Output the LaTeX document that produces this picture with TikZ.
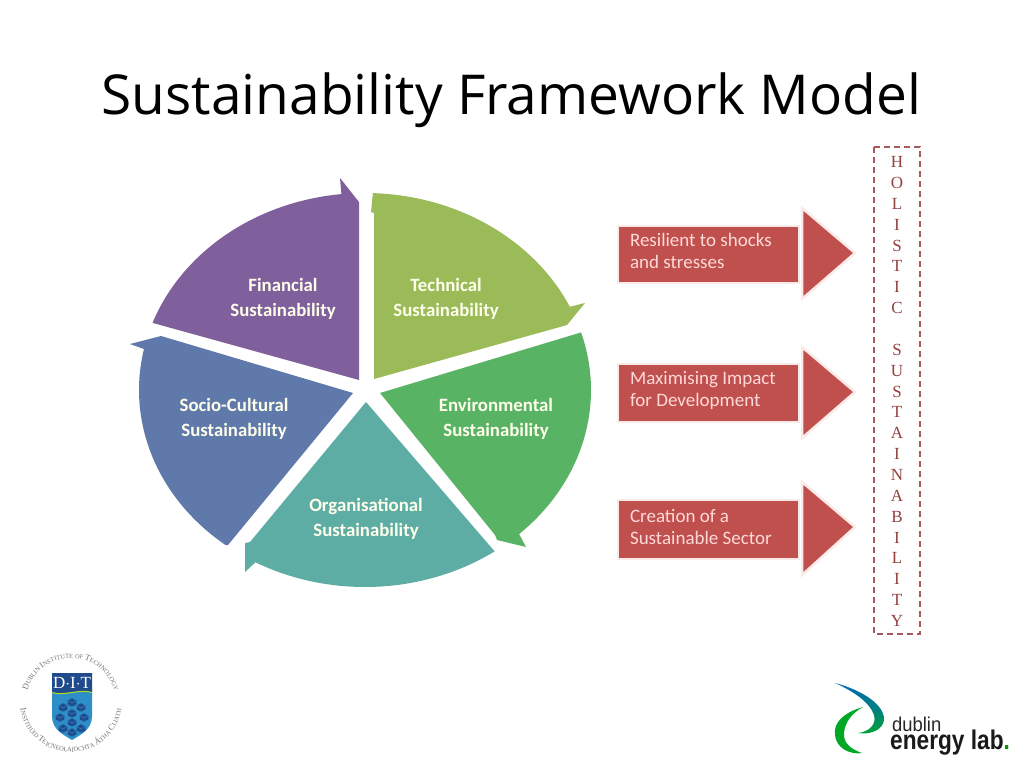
\documentclass[tikz,border=0pt]{standalone}
\usepackage{fontspec}
\setmainfont{Liberation Serif}
\newfontfamily\titlefont{Open Sans}
\newfontfamily\calfont{Carlito}
\newfontfamily\sansfont{Liberation Sans}
\usetikzlibrary{decorations.text}
\definecolor{finC}{HTML}{7F5F9C}
\definecolor{techC}{HTML}{9BBB59}
\definecolor{envC}{HTML}{59B365}
\definecolor{orgC}{HTML}{5EADA5}
\definecolor{socC}{HTML}{5F79AA}
\definecolor{redC}{HTML}{C0504D}
\definecolor{glowC}{HTML}{FAEBE9}
\definecolor{dashC}{HTML}{A85A5A}
\definecolor{holC}{HTML}{93413F}
\definecolor{dkblue}{HTML}{1F4A8C}
\definecolor{ltblue}{HTML}{2E8FC8}
\newcommand{\capA}{\fontsize{8.5}{10}\selectfont\color{black!55}}
\newcommand{\capB}{\fontsize{6.4}{10}\selectfont\color{black!55}}
\tikzset{
  sector/.style={draw=none},
  seclabel/.style={font=\calfont\bfseries\fontsize{18.8}{25}\selectfont,text=white!92!yellow,align=center},
  redbox/.style={fill=redC,draw=glowC,line width=2.5pt},
  redlabel/.style={font=\calfont\fontsize{19}{22}\selectfont,text=white!85!red,align=left,anchor=west},
  cube/.style={fill=dkblue,draw=ltblue,line width=.3pt}
}
\begin{document}
\begin{tikzpicture}[x=1pt,y=-1pt]
\useasboundingbox (0,0) rectangle (1024,768);
\fill[white] (0,0) rectangle (1024,768);
\node[font=\titlefont\fontsize{55}{60}\selectfont,text=black] (title) at (511.5,100) {Sustainability Framework Model};
% sectors
\fill[sector,finC] (359,380) -- (153,323) -- plot[domain=160:96,samples=50] ({365+226*cos(\x)},{390-197*sin(\x)}) -- (340,178) -- (359,202) -- cycle;
\fill[sector,techC] (374,379) -- (374,213) -- (371,212) -- plot[domain=88:25,samples=50] ({365+226*cos(\x)},{390-197*sin(\x)}) -- (585,303) -- (567,325) -- cycle;
\fill[sector,envC] (380,393) -- plot[domain=17:-47,samples=50] ({365+226*cos(\x)},{390-197*sin(\x)}) -- (526,547) -- (497,540) -- (495,535) -- cycle;
\fill[sector,orgC] (366,402) -- plot[domain=-55:-119,samples=50] ({365+226*cos(\x)},{390-197*sin(\x)}) -- (245,572) -- (245,543) -- (250,542) -- cycle;
\fill[sector,socC] (353,393) -- (228,545) -- plot[domain=-128:-192,samples=50] ({365+226*cos(\x)},{390-197*sin(\x)}) -- (130,344) -- (161,336) -- cycle;
\node[seclabel] (fin) at (283,299) {Financial\\Sustainability};
\node[seclabel] (tech) at (446,299) {Technical\\Sustainability};
\node[seclabel] (env) at (496,418.5) {Environmental\\Sustainability};
\node[seclabel] (org) at (366,519) {Organisational\\Sustainability};
\node[seclabel] (soc) at (234,418.5) {Socio-Cultural\\Sustainability};
% red arrows
\filldraw[redbox] (618,226) rectangle (799,283);
\filldraw[redbox] (802,208) -- (855,253) -- (802,299) -- cycle;
\node[redlabel] (r1) at (626.5,251) {Resilient to shocks\\and stresses};
\filldraw[redbox] (618,364) rectangle (799,422);
\filldraw[redbox] (802,347) -- (855,392) -- (802,438) -- cycle;
\node[redlabel] (r2) at (626.5,390) {Maximising Impact\\for Development};
\filldraw[redbox] (618,500) rectangle (799,559);
\filldraw[redbox] (802,482) -- (855,527) -- (802,575) -- cycle;
\node[redlabel] (r3) at (626.5,527) {Creation of a\\Sustainable Sector};
% holistic column
\draw[dashC,line width=1.6pt,dash pattern=on 6pt off 4pt] (874,147) rectangle (920,634);
\node[font=\fontsize{17}{20.85}\selectfont,text=holC,align=center,inner sep=0pt] (hol) at (897,391.5)
 {H\\O\\L\\I\\S\\T\\I\\C\\\mbox{}\\S\\U\\S\\T\\A\\I\\N\\A\\B\\I\\L\\I\\T\\Y};
% DIT crest
\path[decorate,decoration={text along path,text align=center,
  text={|\capA|D|\capB|UBLIN |\capA|I|\capB|NSTITUTE OF |\capA|T|\capB|ECHNOLOGY}}]
  plot[domain=175:5,samples=80] ({71+45*cos(\x)},{702-44*sin(\x)});
\path[decorate,decoration={text along path,text align=center,
  text={|\capA|I|\capB|NSTITIÚID |\capA|T|\capB|EICNEOLAÍOCHTA |\capA|Á|\capB|THA |\capA|C|\capB|LIATH}}]
  plot[domain=178:362,samples=100] ({71+51*cos(\x)},{702-50*sin(\x)});
\fill[ltblue] (52,690) -- (92,690) -- (92,716) .. controls (92,730) and (80,735) .. (72,740) .. controls (64,735) and (52,730) .. (52,716) -- cycle;
\fill[dkblue] (52,673) -- (92,673) -- (92,692) .. controls (80,688) and (64,696) .. (52,692) -- cycle;
\draw[yellow!70!green,line width=1pt] (52,692.5) .. controls (64,696.5) and (80,688.5) .. (92,692.5);
\node[font=\fontsize{17}{17}\selectfont,text=white,inner sep=0pt] (dit) at (72,683) {D$\cdot$I$\cdot$T};
\foreach \cx/\cy in {72/702,63/707,81/707,72/713,60/717,84/717,72/722,63/728,81/728,72/732}{
  \fill[cube] (\cx-4.5,\cy-1.5) -- (\cx,\cy-4) -- (\cx+4.5,\cy-1.5) -- (\cx+4.5,\cy+2.5) -- (\cx,\cy+5) -- (\cx-4.5,\cy+2.5) -- cycle;
  \draw[ltblue,line width=.4pt] (\cx-4.5,\cy-1.5) -- (\cx,\cy+1) -- (\cx+4.5,\cy-1.5) (\cx,\cy+1) -- (\cx,\cy+5);
}
% Dublin Energy Lab logo
\shade[top color=blue!40!cyan!70!black,bottom color=green!55!black!80!cyan,middle color=cyan!50!black] (835,683) .. controls (862,690) and (885,705) .. (884,720) .. controls (883,730) and (870,735) .. (858,733) .. controls (868,732) and (877,725) .. (874,715) .. controls (870,703) and (855,692) .. (835,683) -- cycle;
\fill[green!60!black!85!cyan] (863,707) .. controls (845,712) and (833,722) .. (835,735) .. controls (836,748) and (850,755) .. (862,753) .. controls (850,749) and (843,742) .. (844,733) .. controls (845,722) and (852,713) .. (863,707) -- cycle;
\node[font=\sansfont\fontsize{20}{20}\selectfont,text=black!85,anchor=base west,inner sep=0pt] (dub) at (892,731) {\scalebox{.92}[1]{dublin}};
\node[font=\sansfont\bfseries\fontsize{27}{27}\selectfont,text=black!90,anchor=base west,inner sep=0pt] (el) at (890,749) {\scalebox{.84}[1]{energy lab\textcolor{green!60!black}{.}}};
\end{tikzpicture}
\end{document}
